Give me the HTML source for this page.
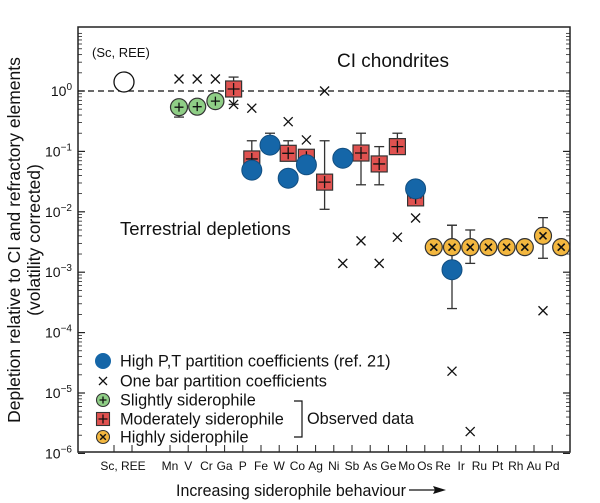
<!DOCTYPE html>
<html><head><meta charset="utf-8"><style>
html,body{margin:0;padding:0;background:#fff}
svg{display:block;font-family:"Liberation Sans",Arial,sans-serif}
</style></head><body>
<svg id="chart" width="600" height="503" viewBox="0 0 600 503" xmlns="http://www.w3.org/2000/svg">
<g id="axes"></g>
<g id="marks"></g>
<g id="legend"></g>
</svg>
<script>
const NS='http://www.w3.org/2000/svg';
const elements=['Mn','V','Cr','Ga','P','Fe','W','Co','Ag','Ni','Sb','As','Ge','Mo','Os','Re','Ir','Ru','Pt','Rh','Au','Pd'];
const yTickExps=[0,-1,-2,-3,-4,-5,-6];
// one bar crosses
const crossEls=['Mn','V','Cr','Ga','P','W','Co','Ag','Ni','Sb','As','Ge','Mo','Re','Ir','Au'];
const crossVals=[1.58,1.58,1.58,0.6,0.52,0.31,0.155,1.0,0.0014,0.0033,0.0014,0.0038,0.0079,2.3e-5,2.3e-6,0.00023];
// slightly siderophile
const greenEls=['Mn','V','Cr'];
const greenVals=[0.54,0.55,0.68];
const greenLo=[0.37,null,null];
// moderately siderophile
const redEls=['Ga','P','W','Co','Ag','Sb','As','Ge','Mo'];
const redVals=[1.08,0.075,0.093,0.08,0.031,0.094,0.062,0.12,0.017];
const redLo=[0.6,null,0.08,null,0.011,0.028,0.028,0.1,null];
const redHi=[1.7,0.15,0.15,null,0.15,0.2,0.12,0.2,null];
// highly siderophile
const yelEls=['Os','Re','Ir','Ru','Pt','Rh','Au','Pd'];
const yelVals=[0.0026,0.0026,0.0026,0.0026,0.0026,0.0026,0.004,0.0026];
const yelLo=[null,null,0.0014,null,null,null,0.0017,null];
const yelHi=[null,0.006,0.005,null,null,null,0.008,null];
// high P,T
const blueEls=['P','Fe','W','Co','Ni','Mo','Re'];
const blueVals=[0.049,0.127,0.036,0.06,0.077,0.024,0.0011];
const blueLo=[null,null,null,null,0.06,null,0.00025];
const blueHi=[null,0.2,null,null,null,null,0.006];
const refVal=1.41;

const L=78,R=570,T=27,B=452;
const y=v=>91-60.4*Math.log10(v);
const tickX=i=>170+18.2*i;
const xe=e=>tickX(elements.indexOf(e))+9;

function mk(tag,attrs,parent,text){const el=document.createElementNS(NS,tag);for(const k in attrs)el.setAttribute(k,attrs[k]);if(text!==undefined)el.textContent=text;parent.appendChild(el);return el;}
const axes=document.getElementById('axes'),marks=document.getElementById('marks'),leg=document.getElementById('legend');

let fr=mk('rect',{x:L,y:T,width:R-L,height:B-T,fill:'none',stroke:'#222','stroke-width':1.5},axes);


for(const e of yTickExps){
  const yy=y(Math.pow(10,e));
  mk('line',{x1:L,x2:L+7,y1:yy,y2:yy,stroke:'#222','stroke-width':1.2},axes);
  mk('line',{x1:R,x2:R-7,y1:yy,y2:yy,stroke:'#222','stroke-width':1.2},axes);
  const t=mk('text',{x:72,y:yy+5,'text-anchor':'end','font-size':14,fill:'#111'},axes);
  
  
  t.appendChild(document.createTextNode('10'));
  mk('tspan',{dy:-6,'font-size':10},t,e===0?'0':'\u2212'+(-e));
}
for(let e=-6;e<=1;e++){for(let m=2;m<=9;m++){const v=m*Math.pow(10,e);const yy=y(v);if(yy<T||yy>B)continue;
  mk('line',{x1:L,x2:L+4,y1:yy,y2:yy,stroke:'#222','stroke-width':0.8},axes);
  mk('line',{x1:R,x2:R-4,y1:yy,y2:yy,stroke:'#222','stroke-width':0.8},axes);}}
[114,132].forEach(x=>mk('line',{x1:x,x2:x,y1:B,y2:B-7,stroke:'#222','stroke-width':1},axes));
let sl=mk('text',{x:123,y:470,'text-anchor':'middle','font-size':12,fill:'#111'},axes,'Sc, REE');


elements.forEach((e,i)=>{mk('line',{x1:tickX(i),x2:tickX(i),y1:B,y2:B-7,stroke:'#222','stroke-width':1},axes);
  const t=mk('text',{x:tickX(i),y:470,'text-anchor':'middle','font-size':12,fill:'#111'},axes,e);
  
  });
let xt=mk('text',{x:176,y:496,'font-size':17,fill:'#111',textLength:230,lengthAdjust:'spacingAndGlyphs'},axes,'Increasing siderophile behaviour');


mk('line',{x1:409,x2:438,y1:490,y2:490,stroke:'#111','stroke-width':1.3},axes);
mk('path',{d:'M446 490 L433 486 L435 490 L433 494 Z',fill:'#111'},axes);
let yt=mk('text',{x:0,y:0,transform:'translate(20,240) rotate(-90)','text-anchor':'middle','font-size':17.5,fill:'#111'},axes,'Depletion relative to CI and refractory elements');


let yt2=mk('text',{x:0,y:0,transform:'translate(40,240) rotate(-90)','text-anchor':'middle','font-size':17.5,fill:'#111'},axes,'(volatility corrected)');


let dl=mk('line',{x1:L,x2:R,y1:y(1),y2:y(1),stroke:'#111','stroke-width':1.2,'stroke-dasharray':'6,4'},axes);


let a1=mk('text',{x:92,y:57,'font-size':13,fill:'#111'},axes,'(Sc, REE)');


let a2=mk('text',{x:337,y:67,'font-size':19,fill:'#111'},axes,'CI chondrites');


let a3=mk('text',{x:120,y:235,'font-size':18.5,fill:'#111'},axes,'Terrestrial depletions');



function err(x,lo,hi,v){const y1=hi!=null?y(hi):y(v),y2=lo!=null?y(lo):y(v);if(y1===y2)return;
  mk('line',{x1:x,x2:x,y1:y1,y2:y2,stroke:'#333','stroke-width':1.3},marks);
  if(hi!=null)mk('line',{x1:x-5,x2:x+5,y1:y1,y2:y1,stroke:'#333','stroke-width':1.3},marks);
  if(lo!=null)mk('line',{x1:x-5,x2:x+5,y1:y2,y2:y2,stroke:'#333','stroke-width':1.3},marks);}
function cross(g,x,yy,s,w){mk('path',{d:`M${x-s} ${yy-s}L${x+s} ${yy+s}M${x-s} ${yy+s}L${x+s} ${yy-s}`,stroke:'#111','stroke-width':w,fill:'none'},g);}
function plus(g,x,yy,s){mk('path',{d:`M${x-s} ${yy}L${x+s} ${yy}M${x} ${yy-s}L${x} ${yy+s}`,stroke:'#111','stroke-width':1.3,fill:'none'},g);}

let rc=mk('circle',{cx:124,cy:y(refVal),r:10,fill:'#fff',stroke:'#111','stroke-width':1.3},marks);



greenEls.forEach((e,i)=>{const x=xe(e);err(x,greenLo[i],null,greenVals[i]);const g=mk('g',{},marks);
  
  
  mk('circle',{cx:x,cy:y(greenVals[i]),r:8.5,fill:'#8fce86',stroke:'#333','stroke-width':1.2},g);plus(g,x,y(greenVals[i]),4.5);});
redEls.forEach((e,i)=>{const x=xe(e);err(x,redLo[i],redHi[i],redVals[i]);const g=mk('g',{},marks);
  
  
  const yy=y(redVals[i]);mk('rect',{x:x-8,y:yy-8,width:16,height:16,fill:'#e05250',stroke:'#333','stroke-width':1.2},g);plus(g,x,yy,6);});
crossEls.forEach((e,i)=>{const g=mk('g',{},marks);
  
  
  cross(g,xe(e),y(crossVals[i]),4.5,1.3);});
blueEls.forEach((e,i)=>{const x=xe(e);err(x,blueLo[i],blueHi[i],blueVals[i]);const c=mk('circle',{cx:x,cy:y(blueVals[i]),r:10,fill:'#1566a8',stroke:'#124e80','stroke-width':1},marks);
  
  });
yelEls.forEach((e,i)=>{const x=xe(e);err(x,yelLo[i],yelHi[i],yelVals[i]);const g=mk('g',{},marks);
  
  
  const yy=y(yelVals[i]);mk('circle',{cx:x,cy:yy,r:8.5,fill:'#f3b73f',stroke:'#333','stroke-width':1.2},g);cross(g,x,yy,3.5,1.6);});

const lx=103,ty=[361,381,400,419,437],lab=['High P,T partition coefficients (ref. 21)','One bar partition coefficients','Slightly siderophile','Moderately siderophile','Highly siderophile'];
mk('circle',{cx:lx,cy:ty[0],r:8,fill:'#1566a8'},leg);
cross(leg,lx,ty[1],4,1.3);
mk('circle',{cx:lx,cy:ty[2],r:6.5,fill:'#8fce86',stroke:'#333','stroke-width':1.1},leg);plus(leg,lx,ty[2],3.5);
mk('rect',{x:lx-6.5,y:ty[3]-6.5,width:13,height:13,fill:'#e05250',stroke:'#333','stroke-width':1.1},leg);plus(leg,lx,ty[3],4.5);
mk('circle',{cx:lx,cy:ty[4],r:6.5,fill:'#f3b73f',stroke:'#333','stroke-width':1.1},leg);cross(leg,lx,ty[4],2.8,1.4);
lab.forEach((s,i)=>{const t=mk('text',{x:120,y:ty[i]+5.5,'font-size':16.3,fill:'#111'},leg,s);
  
  });
mk('path',{d:'M294 401 L302 401 L302 437 L294 437',stroke:'#111','stroke-width':1.2,fill:'none'},leg);
let od=mk('text',{x:307,y:424,'font-size':16.3,fill:'#111'},leg,'Observed data');


</script>
</body></html>
